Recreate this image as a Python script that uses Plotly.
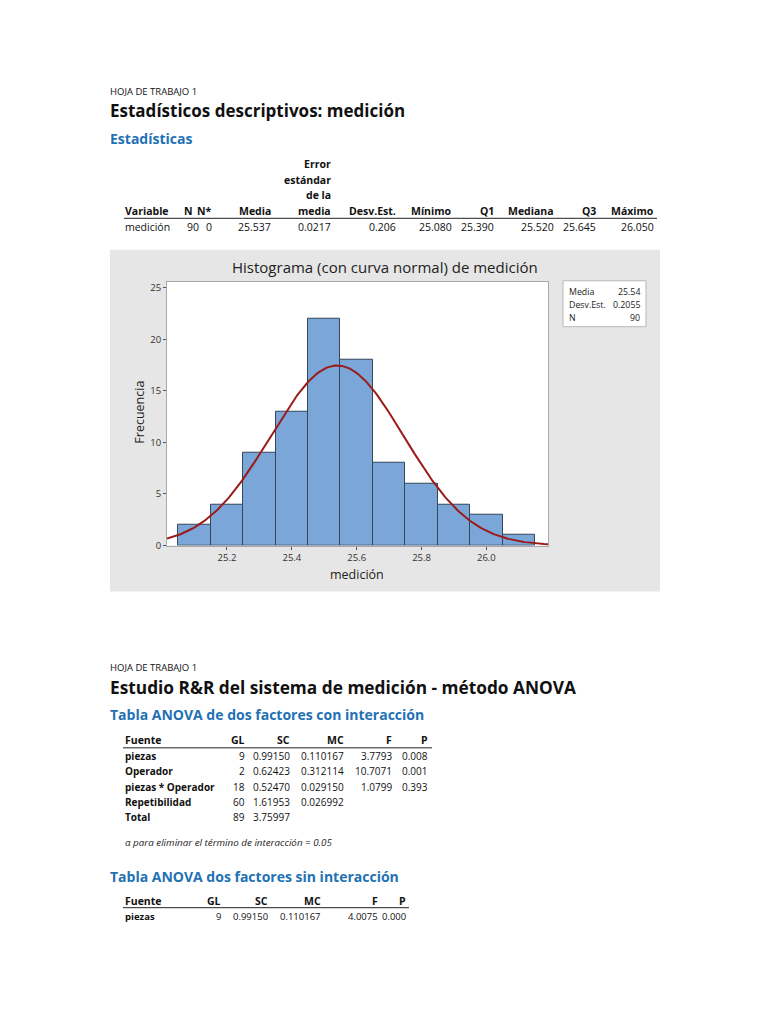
import numpy as np
import plotly.graph_objects as go

W, H = 768, 1024
FONT = "Open Sans"

# ---------------- data ----------------
stat_headers = [["Variable"], ["N"], ["N*"], ["Media"],
                ["Error", "estándar", "de la", "media"],
                ["Desv.Est."], ["Mínimo"], ["Q1"], ["Mediana"], ["Q3"], ["Máximo"]]
stat_values = ["medición", "90", "0", "25.537", "0.0217", "0.206",
               "25.080", "25.390", "25.520", "25.645", "26.050"]

bin_centers = [25.1, 25.2, 25.3, 25.4, 25.5, 25.6, 25.7, 25.8, 25.9, 26.0, 26.1]
counts = [2, 4, 9, 13, 22, 18, 8, 6, 4, 3, 1]
bin_width = 0.1
MEAN = 25.54
SD = 0.2055
N = 90
x_ticks = [25.2, 25.4, 25.6, 25.8, 26.0]
y_ticks = [0, 5, 10, 15, 20, 25]
legend_labels = ["Media", "Desv.Est.", "N"]
legend_values = ["25.54", "0.2055", "90"]

anova_headers = ["Fuente", "GL", "SC", "MC", "F", "P"]
anova1_rows = [
    ["piezas", "9", "0.99150", "0.110167", "3.7793", "0.008"],
    ["Operador", "2", "0.62423", "0.312114", "10.7071", "0.001"],
    ["piezas * Operador", "18", "0.52470", "0.029150", "1.0799", "0.393"],
    ["Repetibilidad", "60", "1.61953", "0.026992", "", ""],
    ["Total", "89", "3.75997", "", "", ""],
]
anova2_rows = [
    ["piezas", "9", "0.99150", "0.110167", "4.0075", "0.000"],
]

# ---------------- helpers ----------------
YS = 1.005  # vertical calibration

def px(x):
    return x / W

def py(y):
    return 1 - (y * YS) / H

annotations = []
shapes = []

def txt(x, y, s, size, anchor="left", bold=False, italic=False, color="#111111", angle=0):
    if bold:
        s = "<b>" + s + "</b>"
    if italic:
        s = "<i>" + s + "</i>"
    annotations.append(dict(
        x=px(x), y=py(y), xref="paper", yref="paper", text=s, showarrow=False,
        xanchor=anchor, yanchor="middle", textangle=angle, borderpad=0,
        font=dict(family=FONT, size=size, color=color)))

def hline(x0, x1, y, color="#222222", width=1):
    shapes.append(dict(type="line", xref="paper", yref="paper",
                       x0=px(x0), x1=px(x1), y0=py(y), y1=py(y),
                       line=dict(color=color, width=width)))

def rect(x0, y0, x1, y1, fill, line=None, layer="below"):
    shapes.append(dict(type="rect", xref="paper", yref="paper",
                       x0=px(x0), x1=px(x1), y0=py(y1), y1=py(y0),
                       fillcolor=fill, layer=layer,
                       line=dict(color=line or fill, width=1 if line else 0)))

BLUE = "#2271b3"
TS = 10.5   # table font size

# ---------------- section 1 text ----------------
txt(109, 92, "HOJA DE TRABAJO 1", 9.5)
txt(109, 111, "Estadísticos descriptivos: medición", 17, bold=True)
txt(109, 139, "Estadísticas", 14, bold=True, color=BLUE)

stat_x = [124, 200, 213, 272, 332, 397, 453, 495, 555, 597, 655]
stat_hdr_x = [124, 194, 213, 272, 332, 397, 453, 495, 555, 597, 655]
row_h = 15.5
for i, (hdr, val) in enumerate(zip(stat_headers, stat_values)):
    anchor = "left" if i == 0 else "right"
    for j, line in enumerate(reversed(hdr)):
        txt(stat_hdr_x[i], 211 - j * row_h, line, TS, anchor=anchor, bold=True)
    txt(stat_x[i], 227, val, TS, anchor=anchor)
hline(124, 657, 218.5)

# ---------------- histogram ----------------
CH_X0, CH_X1, CH_Y0, CH_Y1 = 110, 660, 250, 592
PL_X0, PL_X1, PL_Y0, PL_Y1 = 167, 548, 282, 546
rect(CH_X0, CH_Y0, CH_X1, CH_Y1, "#e6e6e6")
rect(PL_X0, PL_Y0, PL_X1, PL_Y1, "#ffffff")

fig = go.Figure()
fig.add_trace(go.Bar(
    x=bin_centers, y=counts, width=[bin_width] * len(counts),
    marker=dict(color="#7ba6d8", line=dict(color="#34465a", width=1)),
    showlegend=False, hoverinfo="x+y"))

xs = np.linspace(25.015, 26.19, 300)
ys = N * bin_width / (SD * np.sqrt(2 * np.pi)) * np.exp(-0.5 * ((xs - MEAN) / SD) ** 2)
fig.add_trace(go.Scatter(x=xs, y=ys, mode="lines",
                         line=dict(color="#9c1a1a", width=2), showlegend=False))

txt(385, 267, "Histograma (con curva normal) de medición", 15, anchor="center", color="#222222")
txt(357, 575, "medición", 12.5, anchor="center", color="#222222")
txt(140, 413, "Frecuencia", 12.5, anchor="center", color="#222222", angle=-90)

# legend box
rect(563, 281, 646, 327, "#ffffff", line="#b8b8b8", layer="above")
for k, (lab, val) in enumerate(zip(legend_labels, legend_values)):
    yy = 292 + k * 13
    txt(568, yy, lab, 8.8, color="#222222")
    txt(641, yy, val, 8.8, anchor="right", color="#222222")

# ---------------- section 2 text ----------------
txt(109, 668, "HOJA DE TRABAJO 1", 9.5)
txt(109, 688, "Estudio R&R del sistema de medición - método ANOVA", 17.3, bold=True)
txt(109, 715, "Tabla ANOVA de dos factores con interacción", 14, bold=True, color=BLUE)

a1_x = [124, 246, 291, 345, 393, 429]
a1_rows_y = [757, 772, 788, 803, 818]
for i, h in enumerate(anova_headers):
    txt(a1_x[i], 741, h, TS, anchor="left" if i == 0 else "right", bold=True)
hline(123, 432, 748.5)
for r, row in enumerate(anova1_rows):
    for i, v in enumerate(row):
        if v:
            txt(a1_x[i], a1_rows_y[r], v, 10, anchor="left" if i == 0 else "right", bold=(i == 0))

txt(124, 843, "α para eliminar el término de interacción = 0.05", 9.8, italic=True, color="#222222")

txt(109, 877, "Tabla ANOVA dos factores sin interacción", 14, bold=True, color=BLUE)
a2_x = [124, 222, 269, 322, 379, 407]
for i, h in enumerate(anova_headers):
    txt(a2_x[i], 902, h, TS, anchor="left" if i == 0 else "right", bold=True)
hline(123, 409, 908.5)
for r, row in enumerate(anova2_rows):
    for i, v in enumerate(row):
        if v:
            txt(a2_x[i], 917 + r * 15.3, v, 9.5, anchor="left" if i == 0 else "right", bold=(i == 0))

# ---------------- layout ----------------
fig.update_layout(
    width=W, height=H, margin=dict(l=0, r=0, t=0, b=0),
    paper_bgcolor="#ffffff", plot_bgcolor="rgba(0,0,0,0)",
    bargap=0, showlegend=False,
    font=dict(family=FONT, color="#222222"),
    annotations=annotations, shapes=shapes,
    xaxis=dict(domain=[px(PL_X0), px(PL_X1)], range=[25.015, 26.19],
               tickvals=x_ticks, ticktext=[f"{v:.1f}" for v in x_ticks],
               ticks="outside", ticklen=3, tickcolor="#555555",
               showgrid=False, zeroline=False, showline=True, linecolor="#a9a9a9",
               mirror=True, tickfont=dict(size=9.5, color="#333333")),
    yaxis=dict(domain=[py(PL_Y1), py(PL_Y0)], range=[0, 25.6],
               tickvals=y_ticks, ticks="outside", ticklen=3, tickcolor="#555555",
               showgrid=False, zeroline=False, showline=True, linecolor="#a9a9a9",
               mirror=True, tickfont=dict(size=9.5, color="#333333")),
)

fig.write_html("out.html", config={"displayModeBar": False},
               post_script="document.body.style.margin='0';document.body.style.overflow='hidden';")
